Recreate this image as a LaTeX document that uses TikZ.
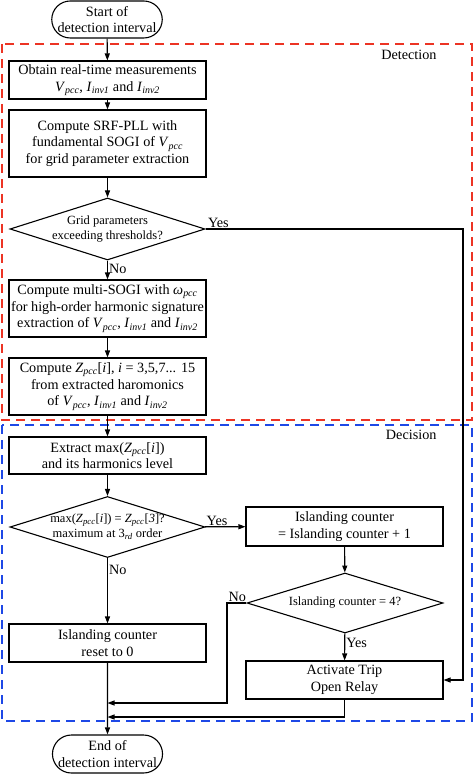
\documentclass[tikz,border=0pt]{standalone}
\usepackage{fontspec}
\setmainfont{Liberation Serif}
\usetikzlibrary{arrows.meta,shapes.geometric,shapes.misc,calc}
\definecolor{detred}{RGB}{236,52,36}
\definecolor{decblue}{RGB}{30,72,230}
\newcommand{\vv}[2]{\textit{#1}\textsubscript{\textit{#2}}}
\begin{document}
\begin{tikzpicture}[x=1pt,y=-1pt,
  every node/.style={font=\fontsize{14.2}{16.7}\selectfont},
  proc/.style={draw,line width=1.1pt,rectangle,align=center,inner sep=1pt,minimum width=197pt},
  term/.style={draw,line width=1.1pt,rounded rectangle,align=center,inner sep=0pt},
  dia/.style={draw,line width=1.1pt,diamond,inner sep=0pt,minimum width=195pt},
  dtext/.style={align=center,font=\fontsize{12.5}{15}\selectfont},
  conn/.style={line width=1.1pt,-{Triangle[length=7pt,width=5pt]}},
  lab/.style={inner sep=1pt},
  zone/.style={line width=2.6pt,dash pattern=on 9pt off 6pt}]
\useasboundingbox (0,0) rectangle (474,775);
% zones
\draw[zone,detred] (2,44) rectangle (472,420);
\draw[zone,decblue] (2,425) rectangle (472,721);
\node[anchor=north east] (detlab) at (440,47) {Detection};
\node[anchor=north east] (declab) at (440,427) {Decision};
% nodes
\node[term,minimum width=110pt,minimum height=37pt] (start) at (107,19.5) {Start of\\detection interval};
\node[proc,minimum height=38pt] (b1) at (107.5,80) {Obtain real-time measurements\\\vv{V}{pcc}, \vv{I}{inv1} and \vv{I}{inv2}};
\node[proc,minimum height=67pt] (b2) at (107.5,143.5) {Compute SRF-PLL with\\fundamental SOGI of \vv{V}{pcc}\\for grid parameter extraction};
\node[dia,minimum height=62pt,label={[dtext]center:Grid parameters\\exceeding thresholds?}] (d1) at (107.5,229) {};
\node[proc,minimum height=57pt] (b3) at (107.5,308.5) {Compute multi-SOGI with \vv{ω}{pcc}\\for high-order harmonic signature\\extraction of \vv{V}{pcc}, \vv{I}{inv1} and \vv{I}{inv2}};
\node[proc,minimum height=57pt] (b4) at (107.5,386.5) {Compute \vv{Z}{pcc}[\textit{i}], \textit{i} = 3,5,7... 15\\from extracted haromonics\\of \vv{V}{pcc}, \vv{I}{inv1} and \vv{I}{inv2}};
\node[proc,minimum height=37pt] (b5) at (107.5,455.5) {Extract max(\vv{Z}{pcc}[\textit{i}])\\and its harmonics level};
\node[dia,minimum height=61pt,label={[dtext]center:max(\vv{Z}{pcc}[\textit{i}]) = \vv{Z}{pcc}[\textit{3}]?\\maximum at 3\textsubscript{\textit{rd}} order}] (d2) at (107.5,527) {};
\node[proc,minimum height=39pt] (b6) at (344.5,526.5) {Islanding counter\\= Islanding counter + 1};
\node[dia,minimum height=60pt,minimum width=196pt,label={[dtext]center:Islanding counter = 4?}] (d3) at (345,603) {};
\node[proc,minimum height=38pt] (b8) at (107.5,643) {Islanding counter\\reset to 0};
\node[proc,minimum height=38pt] (b7) at (344.5,680) {Activate Trip\\Open Relay};
\node[term,minimum width=109pt,minimum height=38pt] (end) at (107.5,754) {End of\\detection interval};
% helper coordinates
\coordinate (r1) at (463,229);
\coordinate (r2) at (463,680);
\coordinate (n1) at (227,603);
\coordinate (n2) at (227,703);
\coordinate (m1) at (107.5,703);
\coordinate (t1) at (344.5,717);
\coordinate (m2) at (107.5,717);
% connectors
\draw[conn] (start) -- (b1);
\draw[conn] (b1) -- (b2);
\draw[conn] (b2) -- (d1);
\draw[conn] (d1) -- node[lab,anchor=west,pos=0.45] {No} (b3);
\draw[conn] (b3) -- (b4);
\draw[conn] (b4) -- (b5);
\draw[conn] (b5) -- (d2);
\draw[conn] (d2) -- node[lab,anchor=south,pos=0.3] {Yes} (b6);
\draw[conn] (d2) -- node[lab,anchor=north west,pos=0.08] {No} (b8);
\draw[conn] (b6) -- (d3);
\draw[conn] (d3) -- node[lab,anchor=west,pos=0.35] {Yes} (b7);
\draw[conn] (d1.east) -- node[lab,anchor=south,pos=0.05] {Yes} (r1) -- (r2) -- (b7.east);
\draw[conn] (d3.west) -- node[lab,anchor=south west,pos=1] {No} (n1) -- (n2) -- (m1);
\draw[conn] (b7.south) -- (t1) -- (m2);
\draw[conn] (b8) -- (end);
\end{tikzpicture}
\end{document}
